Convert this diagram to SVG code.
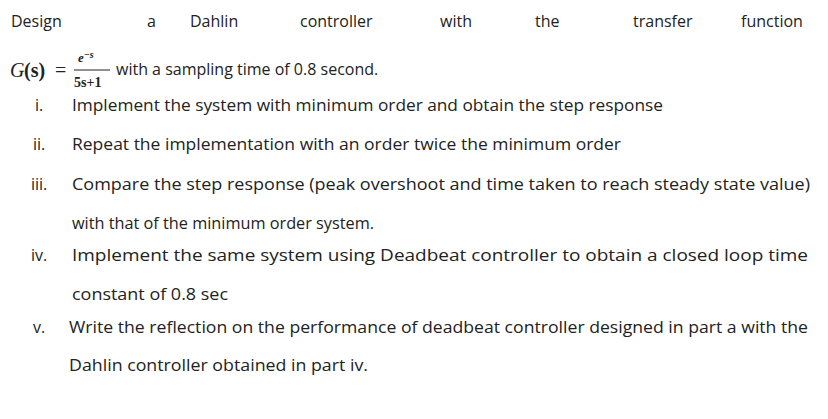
<svg xmlns="http://www.w3.org/2000/svg" width="828" height="419" viewBox="0 0 828 419">
<style>
text{font-family:"Open Sans","Liberation Sans",sans-serif;font-size:16px;fill:#222}
.m{font-family:"Liberation Serif",serif;font-weight:bold}
</style>
<rect width="828" height="419" fill="#fff"/>
<g id="header">
<text x="11" y="27">Design</text><text x="147" y="27">a</text><text x="190" y="27">Dahlin</text>
<text x="300" y="27">controller</text><text x="440" y="27">with</text><text x="535" y="27">the</text>
<text x="633" y="27">transfer</text><text x="741" y="27">function</text>
</g>
<g id="formula">
<text x="10" y="77" style="font-family:'Liberation Serif',serif;font-style:italic;font-size:20px">G</text>
<text x="24" y="77" class="m" style="font-size:20px">(s)</text>
<text x="55" y="77" style="font-family:'Liberation Serif',serif;font-size:20px">=</text>
<text x="78" y="62" class="m" style="font-size:13px;font-style:italic">e<tspan dy="-4" font-size="10">−s</tspan></text>
<line x1="74" y1="70" x2="110" y2="70" stroke="#222" stroke-width="1.2"/>
<text x="74" y="87" class="m" style="font-size:14px">5s+1</text>
<text x="116" y="75">with a sampling time of 0.8 second.</text>
</g>
<g id="items">
<text x="35" y="111">i.</text><text x="72" y="111" textLength="591" lengthAdjust="spacingAndGlyphs">Implement the system with minimum order and obtain the step response</text>
<text x="33" y="150">ii.</text><text x="72" y="150" textLength="549" lengthAdjust="spacingAndGlyphs">Repeat the implementation with an order twice the minimum order</text>
<text x="31" y="190">iii.</text><text x="72" y="190" textLength="738" lengthAdjust="spacingAndGlyphs">Compare the step response (peak overshoot and time taken to reach steady state value)</text>
<text x="72" y="229" textLength="302" lengthAdjust="spacingAndGlyphs">with that of the minimum order system.</text>
<text x="31" y="261">iv.</text><text x="72" y="261" textLength="736" lengthAdjust="spacingAndGlyphs">Implement the same system using Deadbeat controller to obtain a closed loop time</text>
<text x="72" y="300" textLength="156" lengthAdjust="spacingAndGlyphs">constant of 0.8 sec</text>
<text x="33" y="333">v.</text><text x="69" y="333" textLength="739" lengthAdjust="spacingAndGlyphs">Write the reflection on the performance of deadbeat controller designed in part a with the</text>
<text x="69" y="371" textLength="299" lengthAdjust="spacingAndGlyphs">Dahlin  controller obtained in part iv.</text>
</g>
</svg>
